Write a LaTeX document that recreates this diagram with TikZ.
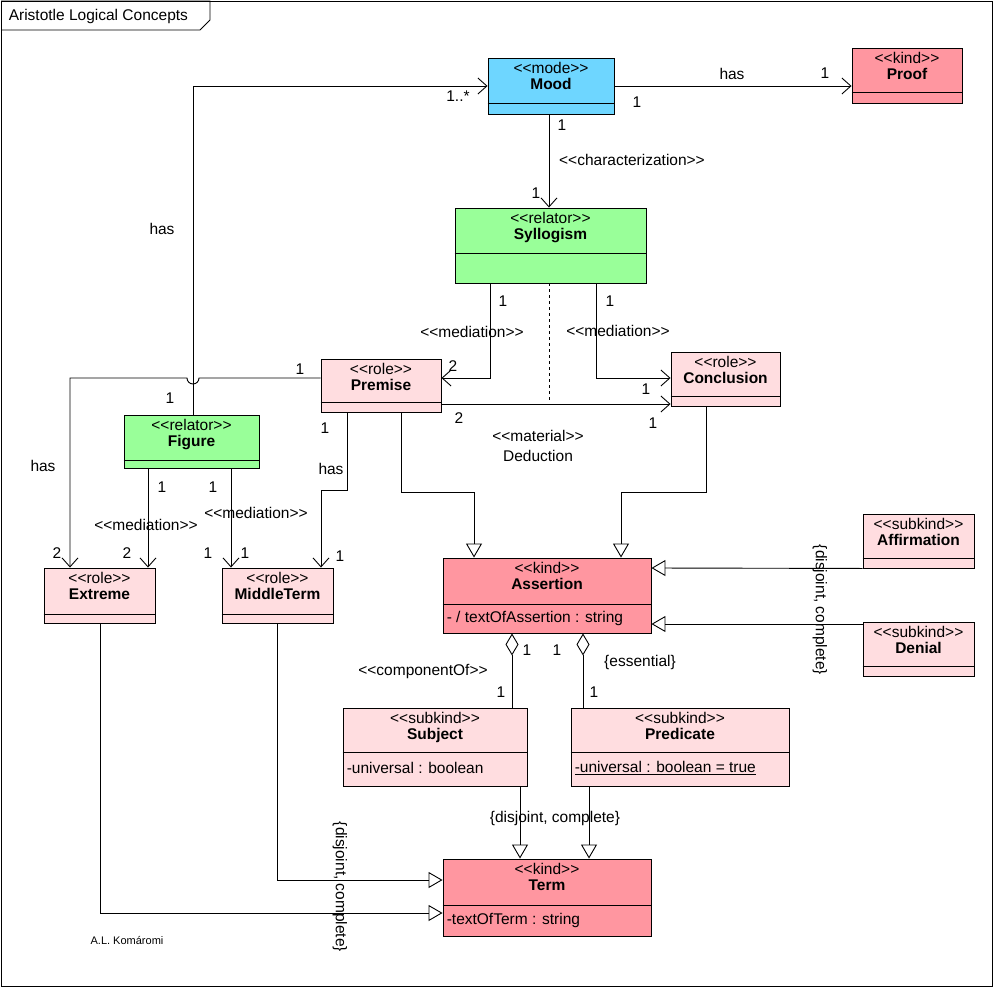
\documentclass[tikz,border=0pt]{standalone}
\usepackage{fontspec}
\setmainfont{Liberation Sans}
\usetikzlibrary{arrows.meta,fit}
\definecolor{mode-blue}{RGB}{110,214,255}
\definecolor{kind-red}{RGB}{255,150,160}
\definecolor{relator-green}{RGB}{153,255,153}
\definecolor{role-pink}{RGB}{255,221,224}
\newcommand\st[1]{<\kern0pt<#1>\kern0pt>}
% one class box: name, fill, corner, corner, split y, stereotype, title
\newcommand\umlbox[7]{%
  \draw[fill=#2] #3 rectangle #4;
  \node[fit={#3 #4}, inner sep=0pt] (#1) {};
  \draw (#1.west |- 0,#5) -- (#1.east |- 0,#5);
  \node[below=1pt, align=center] at (#1.north) {\st{#6}\\[-2pt]\textbf{#7}};}
\tikzset{
  assoc/.style={-{Straight Barb[length=9pt,width=16pt]}},
  gen/.style={-{Triangle[open,length=14pt,width=16pt]}},
  comp/.style={{Diamond[open,length=22pt,width=13pt]}-},
  lbl/.style={inner sep=1pt},
}
\begin{document}
\begin{tikzpicture}[x=1pt,y=-1pt,line width=0.9pt,font=\fontsize{15.5}{18}\selectfont]
  \useasboundingbox (0,0) rectangle (994,988);
  % frame and title
  \draw (1,1) rectangle (992,986);
  \draw (1,1) -- (210,1) -- (210,20) -- (200,30) -- (1,30);
  \node[anchor=west] at (5,16) {Aristotle Logical Concepts};

  % classes
  \umlbox{mood}{mode-blue}{(488,58)}{(614,114)}{103}{mode}{Mood}
  \umlbox{proof}{kind-red}{(852,48)}{(962,103)}{92}{kind}{Proof}
  \umlbox{syl}{relator-green}{(455,208)}{(646,283)}{253}{relator}{Syllogism}
  \umlbox{premise}{role-pink}{(321,359)}{(441,412)}{402}{role}{Premise}
  \umlbox{concl}{role-pink}{(671,352)}{(780,406)}{396}{role}{Conclusion}
  \umlbox{figure}{relator-green}{(124,415)}{(259,468)}{460}{relator}{Figure}
  \umlbox{extreme}{role-pink}{(44,568)}{(155,623)}{614}{role}{Extreme}
  \umlbox{middle}{role-pink}{(222,568)}{(333,623)}{614}{role}{MiddleTerm}
  \umlbox{assert}{kind-red}{(443,558)}{(651,633)}{604}{kind}{Assertion}
  \umlbox{affirm}{role-pink}{(863,514)}{(974,568)}{558}{subkind}{Affirmation}
  \umlbox{denial}{role-pink}{(863,622)}{(974,676)}{666}{subkind}{Denial}
  \umlbox{subject}{role-pink}{(343,708)}{(527,786)}{752}{subkind}{Subject}
  \umlbox{pred}{role-pink}{(571,708)}{(789,786)}{752}{subkind}{Predicate}
  \umlbox{term}{kind-red}{(443,859)}{(651,936)}{905}{kind}{Term}

  % attributes
  \node[anchor=west] at (443,618) {- / textOfAssertion : string};
  \node[anchor=west] at (343,768) {-universal : boolean};
  \node[anchor=west] at (571,768) {\underline{-universal : boolean = true}};
  \node[anchor=west] at (443,920) {-textOfTerm : string};

  % associations
  \draw[assoc] (mood.east |- 0,86) -- (proof.west |- 0,86);
  \draw[assoc] (mood.south -| 549,0) -- (syl.north -| 549,0);
  \draw[assoc] (figure.north -| 193,0) -- (193,86) -- (mood.west |- 0,86);
  \draw[assoc] (premise.west |- 0,378) -- (199,378) arc (0:180:6) -- (70,378) -- (extreme.north -| 70,0);
  \draw[assoc] (syl.south -| 490,0) -- (490,378) -- (premise.east |- 0,378);
  \draw[assoc] (syl.south -| 596,0) -- (596,378) -- (concl.west |- 0,378);
  \draw[dashed] (syl.south -| 549,0) -- (549,400);
  \draw[assoc] (premise.east |- 0,404) -- (concl.west |- 0,404);
  \draw[assoc] (premise.south -| 347,0) -- (347,490) -- (321,490) -- (middle.north -| 321,0);
  \draw[assoc] (figure.south -| 148,0) -- (extreme.north -| 148,0);
  \draw[assoc] (figure.south -| 231,0) -- (middle.north -| 231,0);

  % generalizations
  \draw[gen] (premise.south -| 401,0) -- (401,492) -- (474,492) -- (assert.north -| 474,0);
  \draw[gen] (concl.south -| 706,0) -- (706,492) -- (621,492) -- (assert.north -| 621,0);
  \draw[gen] (affirm.south west) -- (assert.east |- 0,568);
  \draw[gen] (denial.west |- 0,624) -- (assert.east |- 0,624);
  \draw[gen] (subject.south -| 520,0) -- (term.north -| 520,0);
  \draw[gen] (pred.south -| 589,0) -- (term.north -| 589,0);
  \draw[gen] (middle.south -| 277,0) -- (277,880) -- (term.west |- 0,880);
  \draw[gen] (extreme.south -| 100,0) -- (100,913) -- (term.west |- 0,913);

  % compositions
  \draw[comp] (assert.south -| 512,0) -- (subject.north -| 512,0);
  \draw[comp] (assert.south -| 583,0) -- (pred.north -| 583,0);

  % labels
  \node[lbl] at (732,74) {has};
  \node[lbl] at (825,73) {1};
  \node[lbl] at (637,102) {1};
  \node[lbl] at (562,125) {1};
  \node[lbl] at (536,193) {1};
  \node[lbl] at (632,160) {\st{characterization}};
  \node[lbl] at (162,229) {has};
  \node[lbl] at (458,96) {1..*};
  \node[lbl] at (170,398) {1};
  \node[lbl] at (300,369) {1};
  \node[lbl] at (43,466) {has};
  \node[lbl] at (57,553) {2};
  \node[lbl] at (503,301) {1};
  \node[lbl] at (453,366) {2};
  \node[lbl] at (472,332) {\st{mediation}};
  \node[lbl] at (610,301) {1};
  \node[lbl] at (646,389) {1};
  \node[lbl] at (618,331) {\st{mediation}};
  \node[lbl] at (459,418) {2};
  \node[lbl] at (653,423) {1};
  \node[lbl] at (538,436) {\st{material}};
  \node[lbl] at (538,456) {Deduction};
  \node[lbl] at (325,428) {1};
  \node[lbl] at (331,469) {has};
  \node[lbl] at (340,556) {1};
  \node[lbl] at (162,487) {1};
  \node[lbl] at (127,553) {2};
  \node[lbl] at (146,525) {\st{mediation}};
  \node[lbl] at (213,487) {1};
  \node[lbl] at (208,553) {1};
  \node[lbl] at (245,553) {1};
  \node[lbl] at (256,513) {\st{mediation}};
  \node[lbl, rotate=-90] at (820,610) {\{disjoint, complete\}};
  \node[lbl] at (527,650) {1};
  \node[lbl] at (501,692) {1};
  \node[lbl] at (423,671) {\st{componentOf}};
  \node[lbl] at (557,650) {1};
  \node[lbl] at (594,692) {1};
  \node[lbl] at (640,662) {\{essential\}};
  \node[lbl] at (555,818) {\{disjoint, complete\}};
  \node[lbl, rotate=-90] at (340,887) {\{disjoint, complete\}};
  \node[lbl, font=\fontsize{11}{13}\selectfont] at (127,940) {A.L. Komáromi};
\end{tikzpicture}
\end{document}
